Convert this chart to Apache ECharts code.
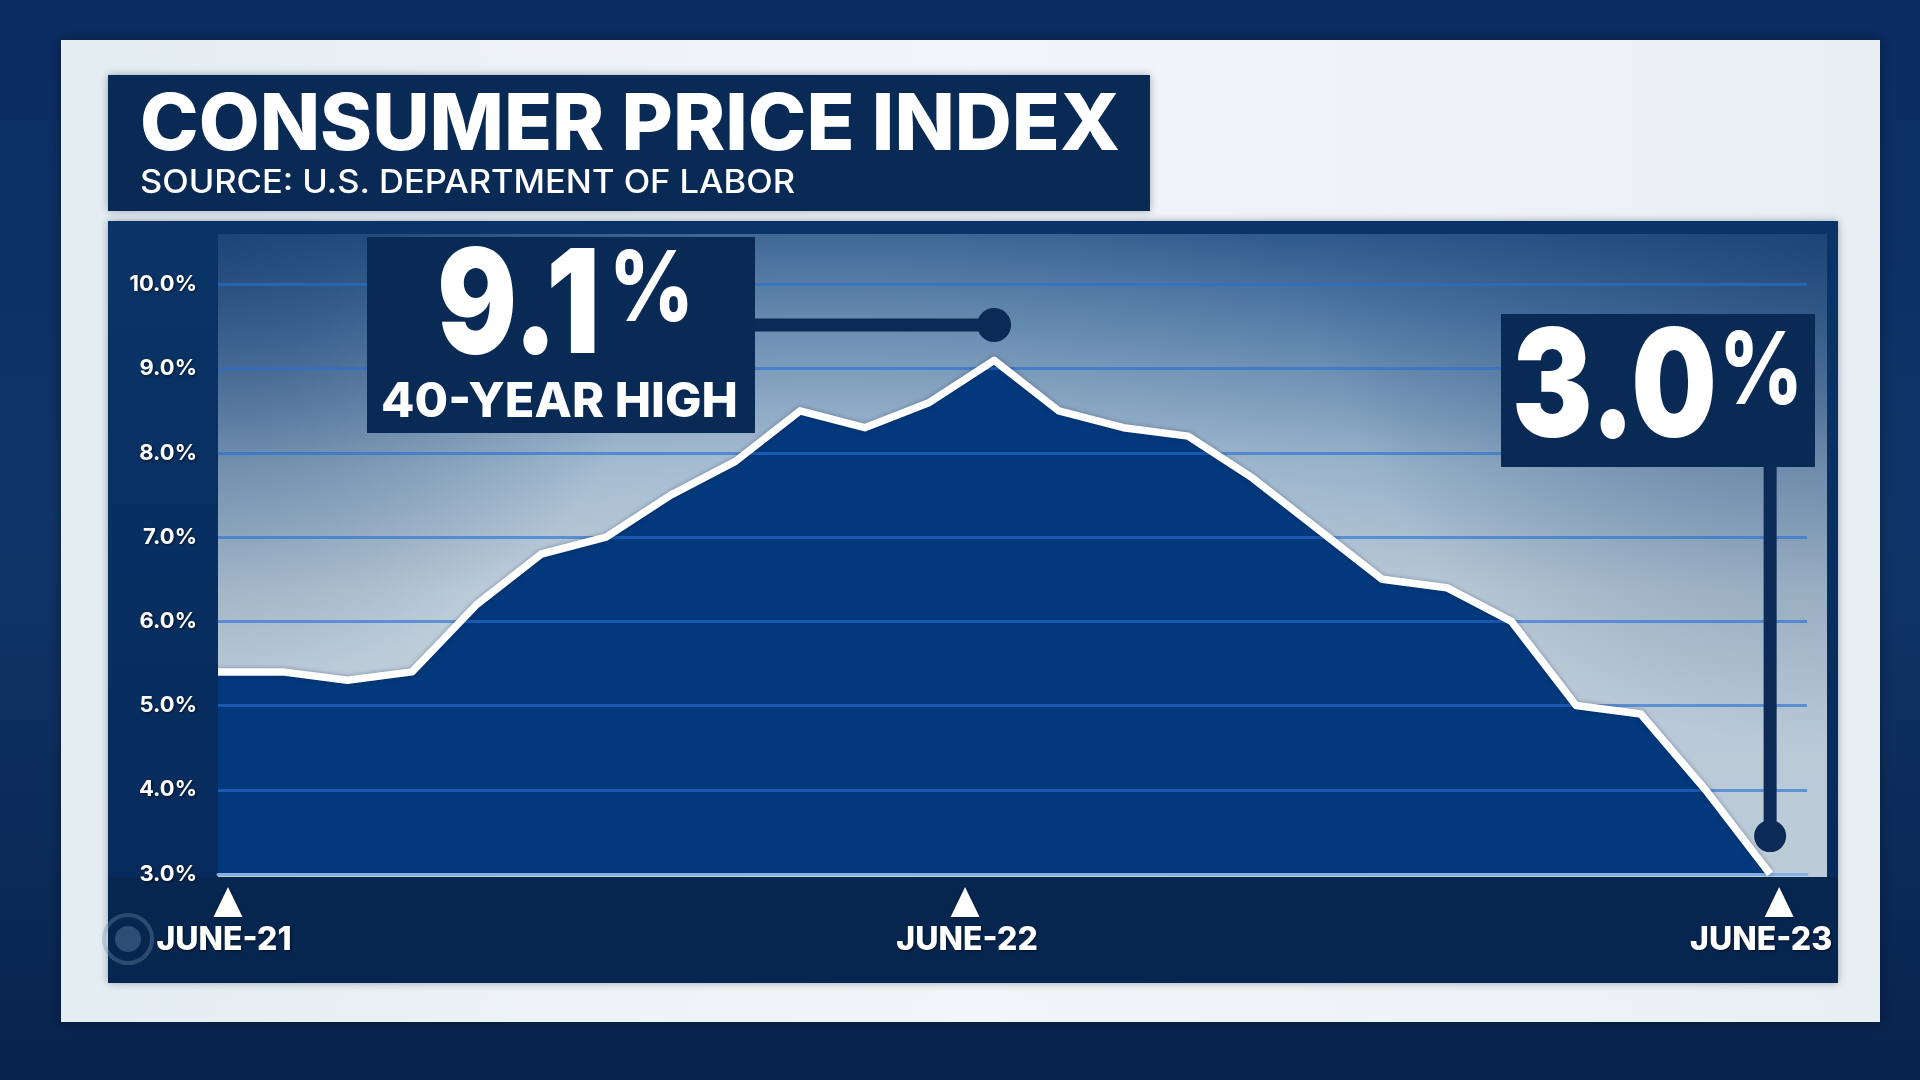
<!DOCTYPE html>
<html><head><meta charset="utf-8">
<script src="https://cdn.jsdelivr.net/npm/echarts@6/dist/echarts.min.js"></script>
<style>html,body{margin:0;padding:0;background:#0b2a5a;}#c{width:1920px;height:1080px;}</style>
</head><body><div id="c"></div>
<script>
// ---- data ----
const months = ['Jun-21','Jul-21','Aug-21','Sep-21','Oct-21','Nov-21','Dec-21','Jan-22','Feb-22','Mar-22','Apr-22','May-22','Jun-22','Jul-22','Aug-22','Sep-22','Oct-22','Nov-22','Dec-22','Jan-23','Feb-23','Mar-23','Apr-23','May-23','Jun-23'];
const cpi = [5.4,5.4,5.3,5.4,6.2,6.8,7.0,7.5,7.9,8.5,8.3,8.6,9.1,8.5,8.3,8.2,7.7,7.1,6.5,6.4,6.0,5.0,4.9,4.0,3.0];
const xTickIndex = [0,12,24];
const xTickLabels = ['JUNE-21','JUNE-22','JUNE-23'];
const titleText = 'CONSUMER PRICE INDEX';
const subtitleText = 'SOURCE: U.S. DEPARTMENT OF LABOR';
const peakNote = '40-YEAR HIGH';

const FAM = 'Inter, "Noto Sans", sans-serif';
const chart = echarts.init(document.getElementById('c'), null, {renderer:'canvas'});
const pts = cpi.map((v,i)=>[i,v]);

const ctx = document.createElement('canvas').getContext('2d');
function fitScale(text, weight, size, target){
  ctx.font = weight + ' ' + size + 'px ' + FAM;
  const w = ctx.measureText(text).width;
  return w > 0 ? target / w : 1;
}
function txt(id, text, left, capCenter, size, weight, width){
  return {
    type:'text', id, x:left, y:capCenter, scaleX: fitScale(text, weight, size, width), z: 12,
    style:{ text, x:0, y:0, font: weight + ' ' + size + 'px ' + FAM, fill:'#ffffff',
      align:'left', verticalAlign:'middle', textAlign:'left', textVerticalAlign:'middle',
      shadowColor:'rgba(0,10,30,0.55)', shadowBlur:4, shadowOffsetX:1, shadowOffsetY:1 }
  };
}

const labelShadow = {textShadowColor:'rgba(0,0,0,0.6)', textShadowBlur:3, textShadowOffsetX:1, textShadowOffsetY:1};
const xl = {color:'#fff', fontFamily:FAM, fontWeight:800, fontSize:32};

chart.setOption({
  animation:false,
  backgroundColor:{type:'linear',x:0,y:0,x2:0,y2:1,colorStops:[
    {offset:0,color:'#0a2c62'},{offset:0.5,color:'#0f3568'},{offset:1,color:'#08234d'}]},
  grid:{left:218, top:234, width:1589, height:640, containLabel:false},
  xAxis:{
    type:'value', min:0, max:24.57, interval:12, z:3,
    axisLine:{show:true, lineStyle:{color:'#86aee0', width:3}},
    axisTick:{show:false}, splitLine:{show:false},
    axisLabel:{
      showMaxLabel:false, showMinLabel:true, margin:66, verticalAlign:'middle',
      formatter:(v)=>{ const k = xTickIndex.indexOf(v); return k < 0 ? '' : '{l'+k+'|'+xTickLabels[k]+'}'; },
      rich:{
        l0:Object.assign({padding:[0,0,0,12]}, xl, labelShadow),
        l1:Object.assign({padding:[0,54,0,0]}, xl, labelShadow),
        l2:Object.assign({padding:[0,18,0,0]}, xl, labelShadow)
      }
    }
  },
  yAxis:{
    type:'value', min:3, max:10.6, interval:1, z:3,
    axisLine:{show:false}, axisTick:{show:false},
    splitLine:{show:true, showMinLine:false, showMaxLine:false, lineStyle:{color:'rgba(40,110,210,0.62)', width:3}},
    axisLabel:Object.assign({showMaxLabel:false, margin:21, formatter:(v)=>v.toFixed(1)+'%',
      color:'#fff', fontFamily:FAM, fontWeight:700, fontSize:22}, labelShadow)
  },
  series:[
    {type:'line', name:'area', data:pts, symbol:'none', z:2,
     lineStyle:{width:0}, areaStyle:{color:'#02397c', opacity:1, origin:'start'}},
    {type:'line', name:'CPI', data:pts, symbol:'none', z:4,
     lineStyle:{color:'#ffffff', width:7.5, join:'round', shadowColor:'rgba(0,20,60,0.35)', shadowBlur:4}}
  ]
});

// annotation positions derived from the data via the chart's scales
const peakIdx = cpi.indexOf(Math.max(...cpi));
const lastIdx = cpi.length - 1;
const p1 = chart.convertToPixel({gridIndex:0}, [peakIdx, cpi[peakIdx] + 0.42]);
const p2 = chart.convertToPixel({gridIndex:0}, [lastIdx, cpi[lastIdx] + 0.45]);
const triOff = [10, -29, 9];
const tris = xTickIndex.map((idx,k)=>{
  const px = chart.convertToPixel({gridIndex:0}, [idx, 3])[0] + triOff[k];
  return {type:'polygon', z:6, shape:{points:[[px-14.5,917],[px+14.5,917],[px,887]]},
    style:{fill:'#ffffff', shadowColor:'rgba(0,0,0,0.5)', shadowBlur:3}};
});

const navy = '#0a2a56';
const PB = {x:218,y:234,width:1609,height:643};
chart.setOption({graphic:[
  // white panel
  {type:'rect', z:0, shape:{x:61,y:40,width:1819,height:982},
   style:{fill:{type:'linear',x:0,y:0,x2:1,y2:0,colorStops:[{offset:0,color:'#e4edf2'},{offset:0.5,color:'#f3f6f8'},{offset:1,color:'#e8eff3'}]},
     shadowColor:'rgba(0,0,0,0.4)', shadowBlur:12}},
  // title box
  {type:'rect', z:0, shape:{x:108,y:75,width:1042,height:136},
   style:{fill:navy, shadowColor:'rgba(0,20,50,0.35)', shadowBlur:8}},
  // chart dark box
  {type:'rect', z:0, shape:{x:108,y:221,width:1730,height:762},
   style:{fill:{type:'linear',x:0,y:0,x2:0,y2:1,colorStops:[{offset:0,color:'#0a3467'},{offset:1,color:'#06295a'}]},
     shadowColor:'rgba(0,20,50,0.35)', shadowBlur:8}},
  {type:'rect', z:0, shape:{x:108,y:877,width:1730,height:106}, style:{fill:'#062650'}},
  // plot background (vertical base + corner shading + soft highlight)
  {type:'rect', z:1, shape:PB,
   style:{fill:{type:'linear',x:0,y:0,x2:0,y2:1,colorStops:[
     {offset:0,color:'#2e5a8c'},{offset:0.16,color:'#5a81aa'},{offset:0.36,color:'#97b1c9'},{offset:0.55,color:'#b6c7d5'},{offset:1,color:'#bccbd8'}]}}},
  {type:'rect', z:1, shape:PB,
   style:{fill:{type:'radial',x:0.38,y:0.72,r:1.0,colorStops:[
     {offset:0,color:'rgba(222,231,238,0.35)'},{offset:1,color:'rgba(222,231,238,0)'}]}}},
  {type:'rect', z:1, shape:PB,
   style:{fill:{type:'radial',x:0,y:0,r:0.7,colorStops:[
     {offset:0,color:'rgba(14,50,100,0.55)'},{offset:1,color:'rgba(14,50,100,0)'}]}}},
  {type:'rect', z:1, shape:PB,
   style:{fill:{type:'radial',x:1,y:0,r:0.8,colorStops:[
     {offset:0,color:'rgba(14,50,100,0.55)'},{offset:1,color:'rgba(14,50,100,0)'}]}}},
  // CBS eye (faint)
  {type:'circle', z:5, shape:{cx:128,cy:939,r:24}, style:{fill:'none', stroke:'rgba(120,145,175,0.35)', lineWidth:4}},
  {type:'circle', z:5, shape:{cx:128,cy:939,r:13}, style:{fill:'rgba(110,135,165,0.4)'}},
  ...tris,
  // callout 9.1%
  {type:'line', z:9, shape:{x1:750,y1:p1[1],x2:p1[0],y2:p1[1]}, style:{stroke:'#0b2a55', lineWidth:13}},
  {type:'circle', z:9, shape:{cx:p1[0],cy:p1[1],r:17}, style:{fill:'#0b2a55'}},
  {type:'rect', z:10, shape:{x:367,y:237,width:388,height:196}, style:{fill:navy}},
  // callout 3.0%
  {type:'line', z:9, shape:{x1:p2[0],y1:460,x2:p2[0],y2:p2[1]}, style:{stroke:'#0b2a55', lineWidth:13}},
  {type:'circle', z:9, shape:{cx:p2[0],cy:p2[1],r:16}, style:{fill:'#0b2a55'}},
  {type:'rect', z:10, shape:{x:1501,y:314,width:314,height:153}, style:{fill:navy}},
  // texts
  txt('title', titleText, 140, 126.5, 78, 800, 980),
  txt('sub', subtitleText, 140, 183.5, 32, 500, 655),
  txt('v91', cpi[peakIdx].toFixed(1), 437, 309.5, 145, 900, 163),
  txt('p91', '%', 609, 292, 98, 800, 85),
  txt('note', peakNote, 381, 402.5, 48, 800, 357),
  txt('v30', cpi[lastIdx].toFixed(1), 1512, 392, 151, 900, 205),
  txt('p30', '%', 1719, 374, 100, 800, 84)
]});
</script>
</body></html>
